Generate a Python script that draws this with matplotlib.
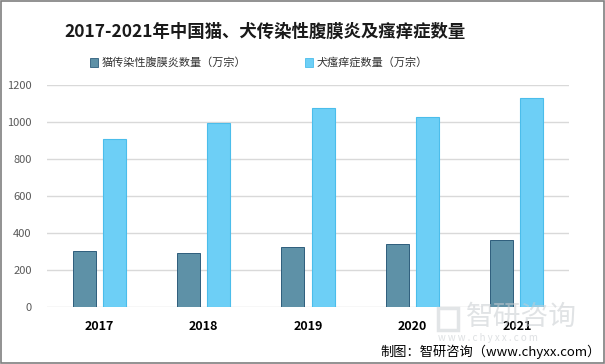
import matplotlib
matplotlib.use("Agg")
import matplotlib.pyplot as plt
import numpy as np
from matplotlib.patches import Rectangle

plt.rcParams['font.family'] = ['Noto Sans CJK SC', 'DejaVu Sans']

years = ['2017', '2018', '2019', '2020', '2021']
cat_fip = [304, 293, 326, 342, 364]
dog_scabies = [910, 998, 1077, 1029, 1131]
series_names = ['猫传染性腹膜炎数量（万宗）', '犬瘙痒症数量（万宗）']
title = '2017-2021年中国猫、犬传染性腹膜炎及瘙痒症数量'
source = '制图：智研咨询（www.chyxx.com）'

fig = plt.figure(figsize=(6.05, 3.64), dpi=100)
ax = fig.add_axes([0.0777, 0.1558, 0.8628, 0.6099])

x = np.arange(len(years))
w = 0.22
off = 0.145
ax.bar(x - off, cat_fip, w, color='#5E91A7', edgecolor='#2E5D7C', linewidth=0.7,
       label=series_names[0], zorder=3)
ax.bar(x + off, dog_scabies, w, color='#6DCFF6', edgecolor='#4BBDEB', linewidth=0.8,
       label=series_names[1], zorder=3)

ax.set_xlim(-0.5, len(years) - 0.5)
ax.set_ylim(0, 1200)
ax.set_yticks(np.arange(0, 1201, 200))
ax.yaxis.grid(True, color='#D9D9D9', linewidth=1, zorder=0)
for s in ax.spines.values():
    s.set_visible(False)
ax.tick_params(axis='both', length=0)
ax.tick_params(axis='y', labelsize=8, labelcolor='#595959', pad=11)
ax.set_xticks(x)
ax.set_xticklabels(years, fontsize=9, fontweight='bold', color='black')
ax.tick_params(axis='x', pad=9)

fig.text(265/605, 0.912, title, ha='center', va='center', fontsize=12.5, fontweight='bold', color='#1a1a1a')

# legend
fig.patches.append(Rectangle((90/605, 1-66.5/364), 8/605, 8/364, transform=fig.transFigure,
                             facecolor='#5E91A7', edgecolor='#2E5D7C', linewidth=0.6))
fig.text(102/605, 1-62.5/364, series_names[0], ha='left', va='center', fontsize=8, color='#333333')
fig.patches.append(Rectangle((305/605, 1-66.5/364), 8/605, 8/364, transform=fig.transFigure,
                             facecolor='#6DCFF6', edgecolor='#4BBDEB', linewidth=0.6))
fig.text(317/605, 1-62.5/364, series_names[1], ha='left', va='center', fontsize=8, color='#333333')

# watermark
fig.patches.append(Rectangle((438/605, 1-330/364), 20/605, 22/364, transform=fig.transFigure,
                             facecolor='none', edgecolor='#D0D4D8', linewidth=2.5, alpha=0.6))
fig.text(466/605, 1-317/364, '智研咨询', ha='left', va='center', fontsize=20, color='#C8CCD0', alpha=0.55, zorder=0)
fig.text(438/605, 1-338/364, 'w w w . c h y x x . c o m', ha='left', va='center', fontsize=7, color='#C8CCD0', alpha=0.6)

fig.text(0.993, 1-352/364, source, ha='right', va='center', fontsize=9.5, color='black')

fig.patches.append(Rectangle((0.001, 0.002), 0.997, 0.995, transform=fig.transFigure,
                             facecolor='none', edgecolor='#7F7F7F', linewidth=1.2))

fig.savefig('out.png', dpi=100)
